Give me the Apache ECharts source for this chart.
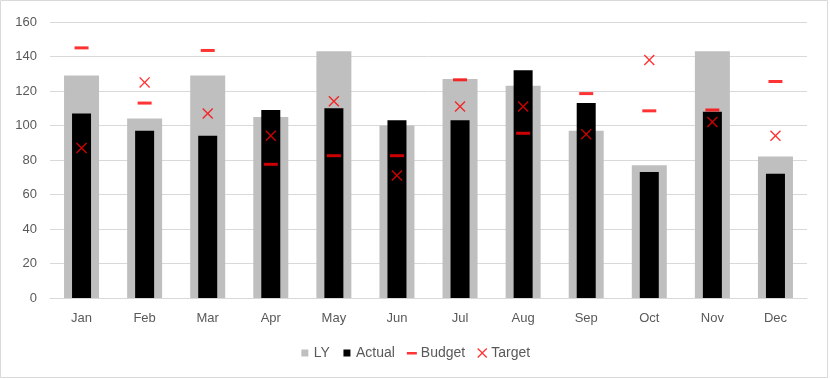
<!DOCTYPE html>
<html>
<head>
<meta charset="utf-8">
<script src="https://cdn.jsdelivr.net/npm/echarts@6/dist/echarts.min.js"></script>
<style>
html,body{margin:0;padding:0;background:#fff;}
#c{width:830px;height:379px;}
</style>
</head>
<body>
<div id="c"></div>
<script>
const months = ['Jan','Feb','Mar','Apr','May','Jun','Jul','Aug','Sep','Oct','Nov','Dec'];
const ly =     [129, 104, 129, 105, 143, 100, 127, 123,  97,  77, 143,  82];
const actual = [107,  97,  94, 109, 110, 103, 103, 132, 113,  73, 108,  72];
const budget = [145, 113, 143.5, 77.5, 82.5, 82.5, 126.5, 95.5, 118.5, 108.5, 109, 125.5];
const target = [87, 125, 107, 94, 114, 71, 111, 111, 95, 138, 102, 94];

const X_PATH = 'path://M0,0.9L0.9,0L5,4.1L9.1,0L10,0.9L5.9,5L10,9.1L9.1,10L5,5.9L0.9,10L0,9.1L4.1,5Z';
const SQ_ICON = 'path://M0,0M1.5,1.5h7v7h-7zM10,10';
const DASH_ICON = 'path://M0,0M0,4h10v2.5h-10zM10,10';

const chart = echarts.init(document.getElementById('c'), null, {renderer:'canvas'});
const font = 'Liberation Sans, Arial, sans-serif';
chart.setOption({
  animation: false,
  textStyle: {fontFamily: font},
  graphic: [{type:'rect', shape:{x:0.5,y:0.5,width:827,height:377}, style:{fill:'none', stroke:'#d9d9d9', lineWidth:1}, silent:true, z:-10}],
  grid: {left:50, right:23, top:22, bottom:81, containLabel:false},
  legend: {
    bottom: 14, left: 'center',
    itemWidth: 10, itemHeight: 10, itemGap: 12,
    textStyle: {color:'#595959', fontSize:14, fontFamily: font, padding:[0,0,0,-1]},
    data: [
      {name:'LY', icon: SQ_ICON},
      {name:'Actual', icon: SQ_ICON},
      {name:'Budget', icon: DASH_ICON},
      {name:'Target', icon: X_PATH}
    ]
  },
  xAxis: [
    {type:'category', data: months, boundaryGap:true,
     axisLine:{lineStyle:{color:'#d9d9d9'}}, axisTick:{show:false},
     axisLabel:{color:'#595959', fontSize:13, margin:14, fontFamily: font}},
    {type:'category', data: months, show:false, position:'bottom'}
  ],
  yAxis: {type:'value', min:0, max:160, interval:20,
    axisLine:{show:false}, axisTick:{show:false},
    axisLabel:{color:'#595959', fontSize:13, margin:13, fontFamily: font},
    splitLine:{lineStyle:{color:'#d9d9d9'}}},
  series: [
    {name:'LY', type:'bar', xAxisIndex:0, data: ly, barWidth:35, itemStyle:{color:'#bfbfbf'}, z:1},
    {name:'Actual', type:'bar', xAxisIndex:1, data: actual, barWidth:19, itemStyle:{color:'#000000'}, z:2},
    {name:'Budget', type:'scatter', xAxisIndex:0, data: budget, symbol:'rect', symbolSize:[14,3], itemStyle:{color:'#ff0000'}, z:3},
    {name:'Target', type:'scatter', xAxisIndex:0, data: target, symbol: X_PATH, symbolSize:11, itemStyle:{color:'#ff0000'}, z:4}
  ]
});
</script>
</body>
</html>
